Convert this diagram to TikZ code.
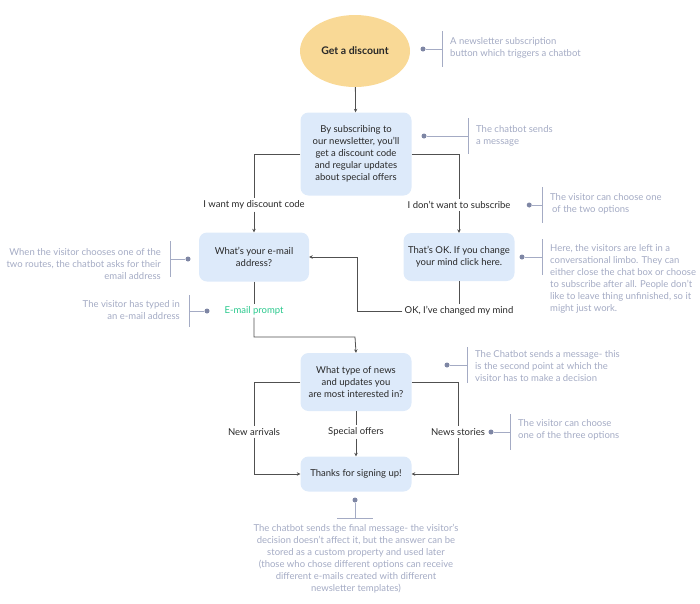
\documentclass[tikz,border=0pt]{standalone}
\usepackage{fontspec}
\setmainfont{Lato}
\usetikzlibrary{arrows.meta, positioning, calc, shapes.geometric}
\definecolor{ChatBlue}{RGB}{221, 234, 250}
\definecolor{DiscountGold}{RGB}{249, 217, 150}
\definecolor{NoteGray}{RGB}{164, 171, 196}
\definecolor{DotGray}{RGB}{126, 134, 164}
\definecolor{PromptGreen}{RGB}{40, 200, 140}
\definecolor{LineGray}{RGB}{80, 80, 80}
\definecolor{InkDark}{RGB}{40, 40, 40}

\begin{document}
\begin{tikzpicture}[x=1pt, y=-1pt, font=\fontsize{9.5}{12}\selectfont, text=InkDark,
    msgbox/.style={fill=ChatBlue, rounded corners=8pt, align=center, minimum width=111pt, inner sep=2pt},
    choice/.style={inner sep=2pt},
    note/.style={text=NoteGray, align=left, inner sep=0pt},
    notedot/.style={circle, fill=DotGray, inner sep=0pt, minimum size=5pt},
    notebar/.style={draw=NoteGray, line width=0.9pt},
    wire/.style={draw=LineGray, line width=0.8pt},
    flow/.style={wire, -{Stealth[length=3.5pt, width=3.5pt]}}]
        \useasboundingbox (0,0) rectangle (700,603);

        % main flow
        \node[ellipse, fill=DiscountGold, minimum width=110pt, minimum height=72pt, font=\fontsize{10.5}{12}\selectfont\bfseries] (get) at (355,51) {Get a discount};
        \node[msgbox, minimum height=83pt] (sub) at (356,154) {By subscribing to\\our newsletter, you'll\\get a discount code\\and regular updates\\about special offers};
        \node[choice] (want) at (254,205) {I want my discount code};
        \node[choice] (dont) at (459,205) {I don't want to subscribe};
        \node[msgbox, minimum width=110pt, minimum height=49pt] (ask) at (254,257) {What's your e-mail\\address?};
        \node[msgbox, minimum height=48pt] (okay) at (459,257) {That's OK. If you change\\your mind click here.};
        \node[choice] (changed) at (459,311) {OK, I've changed my mind};
        \node[choice, text=PromptGreen] (prompt) at (254,311) {E-mail prompt};
        \node[msgbox, minimum height=58pt] (types) at (356,382) {What type of news\\and updates you\\are most interested in?};
        \node[choice] (arrivals) at (254,432) {New arrivals};
        \node[choice] (offers) at (356,432) {Special offers};
        \node[choice] (stories) at (458,432) {News stories};
        \node[msgbox, minimum height=35pt] (thanks) at (356,474) {Thanks for signing up!};

        \coordinate (back) at (357,257);
        \coordinate (turn) at (355,337);

        \draw[flow] (get) -- (sub);
        \draw[wire] (sub.west) -| (want.north);
        \draw[flow] (want.south) -- (ask.north);
        \draw[wire] (sub.east) -| (dont.north);
        \draw[flow] (dont.south) -- (okay.north);
        \draw[wire] (okay.south) -- (changed.north);
        \draw[flow] (changed.west) -| (back) -- (ask.east);
        \draw[wire] (ask.south) -- (prompt.north);
        \draw[flow] (prompt.south) |- (turn) -- (types.north);
        \draw[wire] (types.west) -| (arrivals.north);
        \draw[flow] (arrivals.south) |- (thanks.west);
        \draw[wire] (types.south) -- (offers.north);
        \draw[flow] (offers.south) -- (thanks.north);
        \draw[wire] (types.east) -| (stories.north);
        \draw[flow] (stories.south) |- (thanks.east);

        % side notes
        \node[notedot] (d1) at (423,49) {};
        \coordinate (b1) at (442,49);
        \draw[notebar] (d1) -- (b1);
        \draw[notebar] ($(b1)+(0,-18)$) -- ($(b1)+(0,18)$);
        \node[note, anchor=west] (n1) at (450,48) {A newsletter subscription\\button which triggers a chatbot};

        \node[notedot] (d2) at (424,136) {};
        \coordinate (b2) at (468,136);
        \draw[notebar] (d2) -- (b2);
        \draw[notebar] ($(b2)+(0,-18)$) -- ($(b2)+(0,18)$);
        \node[note, anchor=west] (n2) at (476,136) {The chatbot sends\\a message};

        \node[notedot, right=14pt of dont] (d3) {};
        \coordinate (b3) at (542,205);
        \draw[notebar] (d3) -- (b3);
        \draw[notebar] ($(b3)+(0,-18)$) -- ($(b3)+(0,18)$);
        \node[note, anchor=west] (n3) at (550,204) {The visitor can choose one\\\hspace{2pt}of the two options};

        \node[notedot] (d4) at (188,259) {};
        \coordinate (b4) at (170,259);
        \draw[notebar] (d4) -- (b4);
        \draw[notebar] ($(b4)+(0,-18)$) -- ($(b4)+(0,18)$);
        \node[note, align=right, anchor=east] (n4) at (161,264) {When the visitor chooses one of the\\two routes, the chatbot asks for their\\email address};

        \node[notedot] (d5) at (522,257) {};
        \coordinate (b5) at (542,257);
        \draw[notebar] (d5) -- (b5);
        \draw[notebar] ($(b5)+(0,-18)$) -- ($(b5)+(0,18)$);
        \node[note, anchor=north west] (n5) at (550,244) {Here, the visitors are left in a\\conversational limbo. They can\\either close the chat box or choose\\to subscribe after all. People don't\\like to leave thing unfinished, so it\\might just work.};

        \node[notedot] (d6) at (207,311) {};
        \coordinate (b6) at (189,311);
        \draw[notebar] (d6) -- (b6);
        \draw[notebar] ($(b6)+(0,-16)$) -- ($(b6)+(0,16)$);
        \node[note, align=right, anchor=east] (n6) at (180,310) {The visitor has typed in\\an e-mail address};

        \node[notedot] (d7) at (447,365) {};
        \coordinate (b7) at (467,365);
        \draw[notebar] (d7) -- (b7);
        \draw[notebar] ($(b7)+(0,-18)$) -- ($(b7)+(0,18)$);
        \node[note, anchor=west] (n7) at (475,366) {The Chatbot sends a message- this\\is the second point at which the\\visitor has to make a decision};

        \node[notedot] (d8) at (491,432) {};
        \coordinate (b8) at (510,432);
        \draw[notebar] (d8) -- (b8);
        \draw[notebar] ($(b8)+(0,-18)$) -- ($(b8)+(0,18)$);
        \node[note, anchor=west] (n8) at (518,430) {The visitor can choose\\one of the three options};

        \node[notedot] (d9) at (355,500) {};
        \coordinate (b9) at (355,518);
        \draw[notebar] (d9) -- (b9);
        \draw[notebar] ($(b9)+(-18,0)$) -- ($(b9)+(18,0)$);
        \node[note, align=center, anchor=north] (n9) at (356,524) {The chatbot sends the final message- the visitor's\\decision doesn't affect it, but the answer can be\\stored as a custom property and used later\\(those who chose different options can receive\\different e-mails created with different\\newsletter templates)};
    \end{tikzpicture}
\end{document}
